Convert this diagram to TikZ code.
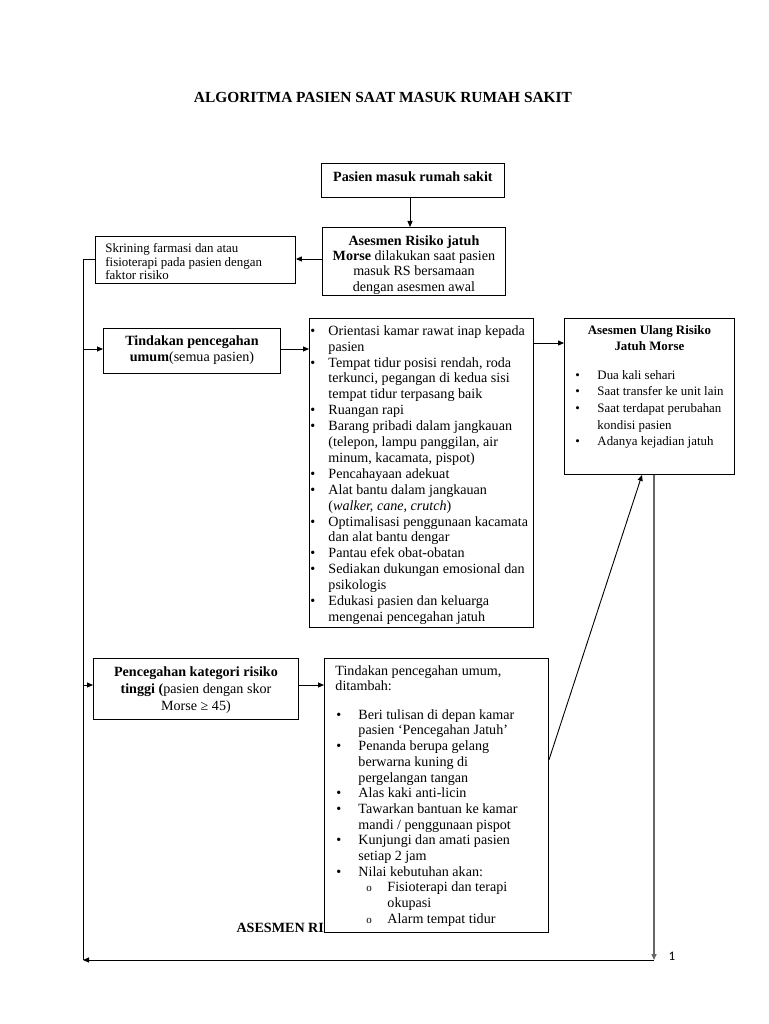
\documentclass[tikz,border=0pt]{standalone}
\usepackage{fontspec}
\setmainfont{Liberation Serif}
\newfontfamily\numfont{Carlito}
\usetikzlibrary{arrows.meta,calc}
\newcommand\fA{\fontsize{14.1pt}{15.9pt}\selectfont}
\newcommand\eb{\hspace*{1pt}\makebox[18pt][l]{\textbullet}}
\newcommand\ec{\hspace*{19pt}}
\newcommand\gb{\hspace*{11pt}\makebox[22pt][l]{\textbullet}}
\newcommand\gc{\hspace*{33pt}}
\newcommand\hb{\hspace*{12pt}\makebox[22pt][l]{\textbullet}}
\newcommand\hc{\hspace*{34pt}}
\newcommand\hs{\hspace*{42pt}\makebox[21pt][l]{\fontsize{11pt}{11pt}\selectfont o}}
\newcommand\hsc{\hspace*{63pt}}
\tikzset{
  x=1pt, y=-1pt,
  box/.style={draw, line width=0.9pt, inner sep=0pt, anchor=north west, fill=white},
  conn/.style={line width=0.9pt},
  arr/.style={conn, -{Triangle[length=6pt,width=5pt]}},
  grayline/.style={draw=black!60, line width=1.4pt},
}
\begin{document}
\begin{tikzpicture}
\useasboundingbox (0,0) rectangle (768,1024);
\fill[white] (0,0) rectangle (768,1024);

\node[font=\fontsize{15.4pt}{18pt}\selectfont\bfseries] (title) at (383,97) {ALGORITMA PASIEN SAAT MASUK RUMAH SAKIT};

\node[box] (A) at (321,163) {\parbox[c][34pt][t]{183pt}{\centering\fA\vspace*{8pt}\textbf{Pasien masuk rumah sakit}}};

\node[box] (B) at (322,227) {\parbox[c][68pt][t]{183pt}{\centering\fontsize{14.1pt}{15.3pt}\selectfont\vspace*{8pt}\textbf{Asesmen Risiko jatuh}\\\textbf{Morse} dilakukan saat pasien\\masuk RS bersamaan\\dengan asesmen awal}};

\node[box] (C) at (95,236) {\parbox[c][47pt][t]{200pt}{\raggedright\fontsize{12.9pt}{13.5pt}\selectfont\vspace*{7pt}\hspace*{10pt}Skrining farmasi dan atau\\\hspace*{10pt}fisioterapi pada pasien dengan\\\hspace*{10pt}faktor risiko}};

\node[box] (D) at (103,328) {\parbox[c][45pt][t]{177pt}{\centering\fontsize{14.1pt}{16.7pt}\selectfont\vspace*{7pt}\textbf{Tindakan pencegahan}\\\textbf{umum}(semua pasien)}};

\node[box] (E) at (309,318) {\parbox[c][309pt][t]{224pt}{\raggedright\fA\vspace*{7pt}%
\eb Orientasi kamar rawat inap kepada\\
\ec pasien\\
\eb Tempat tidur posisi rendah, roda\\
\ec terkunci, pegangan di kedua sisi\\
\ec tempat tidur terpasang baik\\
\eb Ruangan rapi\\
\eb Barang pribadi dalam jangkauan\\
\ec (telepon, lampu panggilan, air\\
\ec minum, kacamata, pispot)\\
\eb Pencahayaan adekuat\\
\eb Alat bantu dalam jangkauan\\
\ec (\textit{walker, cane, crutch})\\
\eb Optimalisasi penggunaan kacamata\\
\ec dan alat bantu dengar\\
\eb Pantau efek obat-obatan\\
\eb Sediakan dukungan emosional dan\\
\ec psikologis\\
\eb Edukasi pasien dan keluarga\\
\ec mengenai pencegahan jatuh}};

\node[box] (G) at (564,318) {\parbox[c][156pt][t]{170pt}{\fontsize{12.9pt}{16pt}\selectfont\vspace*{7pt}%
{\centering\textbf{Asesmen Ulang Risiko}\\\textbf{Jatuh Morse}\par}
\vspace{12pt}
{\raggedright\fontsize{12.9pt}{16.7pt}\selectfont
\gb Dua kali sehari\\
\gb Saat transfer ke unit lain\\
\gb Saat terdapat perubahan\\
\gc kondisi pasien\\
\gb Adanya kejadian jatuh\par}}};

\node[box] (F) at (93,658) {\parbox[c][61pt][t]{205pt}{\centering\fontsize{14.1pt}{17pt}\selectfont\vspace*{8pt}\textbf{Pencegahan kategori risiko}\\\textbf{tinggi (}pasien dengan skor\\Morse ≥ 45)}};

\node[font=\fontsize{14.1pt}{16pt}\selectfont\bfseries, anchor=base west] (asm) at (233,932) {ASESMEN RI};

\node[box] (H) at (324,658) {\parbox[c][274pt][t]{224pt}{\raggedright\fontsize{14.1pt}{15.7pt}\selectfont\vspace*{7pt}%
\hspace*{11pt}Tindakan pencegahan umum,\\
\hspace*{11pt}ditambah:\par
\vspace{12.6pt}
\hb Beri tulisan di depan kamar\\
\hc pasien ‘Pencegahan Jatuh’\\
\hb Penanda berupa gelang\\
\hc berwarna kuning di\\
\hc pergelangan tangan\\
\hb Alas kaki anti-licin\\
\hb Tawarkan bantuan ke kamar\\
\hc mandi / penggunaan pispot\\
\hb Kunjungi dan amati pasien\\
\hc setiap 2 jam\\
\hb Nilai kebutuhan akan:\\
\hs Fisioterapi dan terapi\\
\hsc okupasi\\
\hs Alarm tempat tidur\par}};

\coordinate (Lx) at (83,0);
\coordinate (Lb) at (83,960);
\coordinate (Rx) at (654,0);
\coordinate (Rb) at (654,960);
\coordinate (ab) at (410,0);
\coordinate (bc) at (0,259);
\coordinate (dy) at (0,349);
\coordinate (eg) at (0,343);
\coordinate (fy) at (0,685);
\coordinate (hy) at (0,760);
\coordinate (gx) at (642,0);

\draw[arr] (A.south -| ab) -- (B.north -| ab);
\draw[arr] (B.west |- bc) -- (C.east |- bc);
\draw[conn] (C.west |- bc) -- (Lx |- bc) -- (Lb);
\draw[arr] (Lx |- dy) -- (D.west |- dy);
\draw[arr] (Lx |- fy) -- (F.west |- fy);
\draw[arr] (D.east |- dy) -- (E.west |- dy);
\draw[arr] (E.east |- eg) -- (G.west |- eg);
\draw[arr] (F.east |- fy) -- (H.west |- fy);
\draw[arr] (H.east |- hy) -- (G.south -| gx);
\draw[arr, grayline] (G.south -| Rx) -- (Rb);
\draw[arr] (Rb) -- (Lb);

\node[font=\numfont\fontsize{13pt}{13pt}\selectfont] (pg) at (672,956) {1};
\end{tikzpicture}
\end{document}
